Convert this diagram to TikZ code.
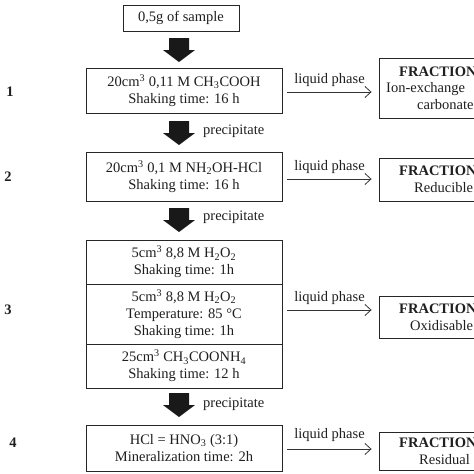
\documentclass[tikz,border=0pt]{standalone}
\usepackage{fontspec}
\setmainfont{Liberation Serif}
\usetikzlibrary{arrows.meta}
\begin{document}
\begin{tikzpicture}[x=1pt,y=-1pt,
  font=\fontsize{14.5}{17}\selectfont,
  every node/.style={text=black!88, inner sep=0pt},
  procbox/.style={draw=black!85, line width=0.9pt, align=center, minimum width=196pt},
  fracbox/.style={draw=black!85, line width=0.9pt, minimum width=141pt},
  conn/.style={draw=black!80, line width=0.8pt, -{Straight Barb[length=6pt,width=11pt]}},
  stepnum/.style={font=\fontsize{14.5}{17}\selectfont\bfseries},
  fractxt/.style={anchor=west},
  bigarr/.pic={\fill[black!90] (-10,0) -- (10,0) -- (10,12) -- (16,12) -- (0,24) -- (-16,12) -- (-10,12) -- cycle;}
]
\useasboundingbox (0,0) rectangle (474,474);
\clip (0,0) rectangle (474,474);
\fill[white] (0,0) rectangle (474,474);

% top box
\node[draw=black!85, line width=0.9pt, minimum width=116pt, minimum height=26pt] (T) at (181,18) {0,5g of sample};

% process boxes
\node[procbox, minimum height=45pt] (B1) at (184,90.5) {20cm\textsuperscript{3} 0,11 M CH\textsubscript{3}COOH\\Shaking time: 16 h};
\node[procbox, minimum height=49pt] (B2) at (184,176.5) {20cm\textsuperscript{3} 0,1 M NH\textsubscript{2}OH-HCl\\Shaking time: 16 h};
\node[procbox, minimum height=44pt] (B3a) at (184,262) {5cm\textsuperscript{3} 8,8 M H\textsubscript{2}O\textsubscript{2}\\Shaking time: 1h};
\node[procbox, minimum height=60pt] (B3b) at (184,314) {5cm\textsuperscript{3} 8,8 M H\textsubscript{2}O\textsubscript{2}\\Temperature: 85 °C\\Shaking time: 1h};
\node[procbox, minimum height=44pt] (B3c) at (184,366) {25cm\textsuperscript{3} CH\textsubscript{3}COONH\textsubscript{4}\\Shaking time: 12 h};
\node[procbox, minimum height=46pt] (B4) at (184,448) {HCl = HNO\textsubscript{3} (3:1)\\Mineralization time: 2h};

% big arrows
\pic at (179,38) {bigarr};
\pic at (179,121) {bigarr};
\pic at (179,208) {bigarr};
\pic at (179,393) {bigarr};
\node[anchor=west] (p1) at (203,131) {precipitate};
\node[anchor=west] (p2) at (203,217) {precipitate};
\node[anchor=west] (p3) at (203,404) {precipitate};

% fraction boxes
\node[fracbox, minimum height=60pt] (F1) at (449.5,88) {};
\node[fracbox, minimum height=43pt] (F2) at (449.5,179.5) {};
\node[fracbox, minimum height=42pt] (F3) at (449.5,317) {};
\node[fracbox, minimum height=38pt] (F4) at (449.5,451) {};

\node[fractxt, font=\fontsize{14.5}{17}\selectfont\bfseries] (f1a) at (399,72) {FRACTION};
\node[fractxt] (f1b) at (386,89) {Ion-exchange};
\node[fractxt] (f1c) at (417,105) {carbonate};
\node[fractxt, font=\fontsize{14.5}{17}\selectfont\bfseries] (f2a) at (399,171) {FRACTION};
\node[fractxt] (f2b) at (414,188) {Reducible};
\node[fractxt, font=\fontsize{14.5}{17}\selectfont\bfseries] (f3a) at (399,309) {FRACTION};
\node[fractxt] (f3b) at (410,326) {Oxidisable};
\node[fractxt, font=\fontsize{14.5}{17}\selectfont\bfseries] (f4a) at (399,443) {FRACTION};
\node[fractxt] (f4b) at (419,460) {Residual};

% liquid phase connectors
\coordinate (c1) at ([yshift=-1.5pt]B1.east);
\coordinate (c2) at ([yshift=-2.5pt]B2.east);
\coordinate (c3) at ([yshift=4pt]B3b.east);
\coordinate (c4) at ([yshift=-1pt]B4.east);
\draw[conn] ([xshift=5pt]c1) -- ([xshift=-7pt]F1.west |- c1) node[midway, yshift=12pt] (l1) {liquid phase};
\draw[conn] ([xshift=5pt]c2) -- ([xshift=-7pt]F2.west |- c2) node[midway, yshift=12pt] (l2) {liquid phase};
\draw[conn] ([xshift=5pt]c3) -- ([xshift=-7pt]F3.west |- c3) node[midway, yshift=12pt] (l3) {liquid phase};
\draw[conn] ([xshift=5pt]c4) -- ([xshift=-7pt]F4.west |- c4) node[midway, yshift=14pt] (l4) {liquid phase};

% step numbers
\node[stepnum] (s1) at (10,92) {1};
\node[stepnum] (s2) at (8,177) {2};
\node[stepnum] (s3) at (8,310) {3};
\node[stepnum] (s4) at (13,443) {4};
\end{tikzpicture}
\end{document}
